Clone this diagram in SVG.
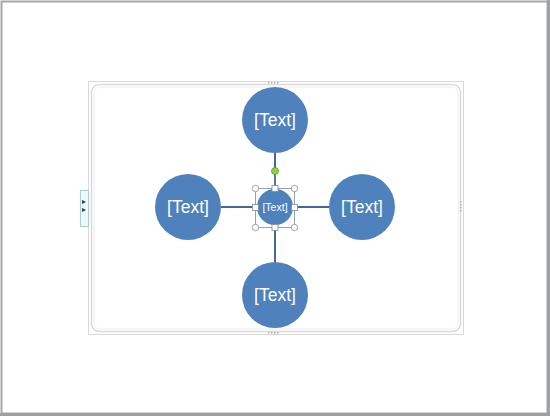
<svg xmlns="http://www.w3.org/2000/svg" width="550" height="416" viewBox="0 0 550 416">
<style>
.node circle{fill:#4f81bd;}
.lbl{font-family:"Liberation Sans",Arial,sans-serif;fill:#ffffff;text-anchor:middle;}
.big{font-size:17.5px;}
.small{font-size:10.5px;}
.conn line{stroke:#41699b;stroke-width:2;}
.h{fill:#ffffff;stroke:#7f8c99;stroke-width:0.8;}
.dots{fill:#b0b0b0;}
</style>
<rect x="0" y="0" width="550" height="416" fill="#ffffff"/>
<rect x="1.5" y="1.5" width="546" height="412" fill="none" stroke="#a6a8ab" stroke-width="2"/>
<rect x="547" y="0" width="3" height="416" fill="#9ea0a3"/>
<rect x="0" y="413" width="550" height="3" fill="#9ea0a3"/>
<g id="frame">
<rect x="88.5" y="81.5" width="375" height="253" fill="none" stroke="#d9d9d9" stroke-width="1"/>
<rect x="91.5" y="84.5" width="369" height="247" rx="8" fill="none" stroke="#dadada" stroke-width="1.5"/>
<rect x="94" y="87" width="364" height="242" rx="6" fill="none" stroke="#eeeeee" stroke-width="1"/>
<g class="dots">
<rect x="268" y="82" width="1.5" height="1.5"/><rect x="271" y="82" width="1.5" height="1.5"/><rect x="274" y="82" width="1.5" height="1.5"/><rect x="277" y="82" width="1.5" height="1.5"/>
<rect x="268" y="332" width="1.5" height="1.5"/><rect x="271" y="332" width="1.5" height="1.5"/><rect x="274" y="332" width="1.5" height="1.5"/><rect x="277" y="332" width="1.5" height="1.5"/>
<rect x="460" y="201" width="1.5" height="1.5"/><rect x="460" y="204" width="1.5" height="1.5"/><rect x="460" y="207" width="1.5" height="1.5"/><rect x="460" y="210" width="1.5" height="1.5"/>
</g>
</g>
<g id="tab">
<rect x="80.5" y="190.5" width="8" height="36" fill="#eef7f9" stroke="#a9ced6" stroke-width="1"/>
<path d="M82 200 L86 202 L82 204 Z" fill="#1f3f6e"/>
<path d="M82 208 L86 210 L82 212 Z" fill="#1f3f6e"/>
</g>
<g id="connectors" class="conn">
<line x1="275" y1="153" x2="275" y2="189"/>
<line x1="275" y1="225" x2="275" y2="262"/>
<line x1="221" y1="207" x2="257" y2="207"/>
<line x1="293" y1="207" x2="329" y2="207"/>
</g>
<g id="node-top" class="node"><circle cx="275" cy="120" r="33"/><text class="lbl big" x="275" y="126">[Text]</text></g>
<g id="node-left" class="node"><circle cx="188" cy="207" r="33"/><text class="lbl big" x="188" y="213">[Text]</text></g>
<g id="node-right" class="node"><circle cx="362" cy="207" r="33"/><text class="lbl big" x="362" y="213">[Text]</text></g>
<g id="node-bottom" class="node"><circle cx="275" cy="295" r="33"/><text class="lbl big" x="275" y="301">[Text]</text></g>
<g id="node-center" class="node"><circle cx="275" cy="207" r="18"/><text class="lbl small" x="275" y="211">[Text]</text></g>
<g id="selection">
<rect x="255.5" y="188.5" width="39" height="39" fill="none" stroke="#7f8c99" stroke-width="0.8"/>
<line x1="275" y1="174" x2="275" y2="188" stroke="#7f8c99" stroke-width="0.8"/>
<circle cx="275" cy="171" r="3.5" fill="#8fd14f" stroke="#5f9a2a" stroke-width="0.8"/>
<circle class="h" cx="255.5" cy="188.5" r="3.2"/><circle class="h" cx="294.5" cy="188.5" r="3.2"/>
<circle class="h" cx="255.5" cy="227.5" r="3.2"/><circle class="h" cx="294.5" cy="227.5" r="3.2"/>
<rect class="h" x="272" y="185.5" width="6" height="6"/><rect class="h" x="272" y="224.5" width="6" height="6"/>
<rect class="h" x="252.5" y="204.5" width="6" height="6"/><rect class="h" x="291.5" y="204.5" width="6" height="6"/>
</g>
</svg>
